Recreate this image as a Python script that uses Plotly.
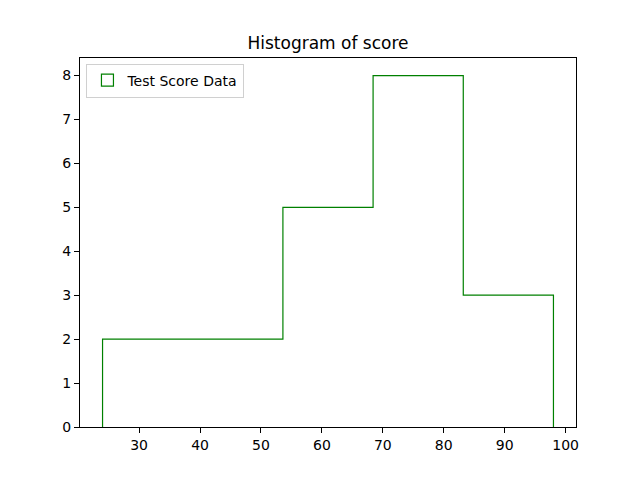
import plotly.graph_objects as go

bin_edges = [24.0, 38.8, 53.6, 68.4, 83.2, 98.0]
counts = [2, 2, 5, 8, 3]
series_name = "Test Score Data"
title_text = "Histogram of score"
x_ticks = [30, 40, 50, 60, 70, 80, 90, 100]
y_ticks = [0, 1, 2, 3, 4, 5, 6, 7, 8]

xs = [bin_edges[0]] + bin_edges
ys = [0] + counts + [0]

span = bin_edges[-1] - bin_edges[0]
x_range = [bin_edges[0] - 0.05 * span, bin_edges[-1] + 0.05 * span]
y_range = [0, max(counts) * 1.05]

fig = go.Figure()
fig.add_trace(go.Scatter(
    x=xs, y=ys, mode="lines", line_shape="hv",
    line=dict(color="green", width=1.2),
    name=series_name, showlegend=False,
))
# legend entry styled like a step-histogram patch
fig.add_trace(go.Bar(
    x=[None], y=[None], name=series_name, showlegend=True,
    marker=dict(color="rgba(0,0,0,0)", line=dict(color="green", width=1.2)),
))

axis_common = dict(
    showgrid=False, zeroline=False, showline=True, linecolor="black", linewidth=1,
    mirror=True, ticks="outside", ticklen=5, tickwidth=1, tickcolor="black",
    tickfont=dict(family="DejaVu Sans", size=14, color="black"),
)

fig.update_layout(
    width=640, height=480,
    paper_bgcolor="white", plot_bgcolor="white",
    margin=dict(l=72, r=72, t=50, b=61),
    title=dict(text=title_text, x=0.5, xref="paper", xanchor="center",
               y=1 - 35 / 480, yref="container", yanchor="middle",
               font=dict(family="DejaVu Sans", size=17, color="black")),
    xaxis=dict(range=x_range, tickvals=x_ticks, **axis_common),
    yaxis=dict(range=y_range, tickvals=y_ticks, **axis_common),
    legend=dict(x=0.013, y=0.985, xanchor="left", yanchor="top",
                bgcolor="white", bordercolor="#d0d0d0", borderwidth=1,
                tracegroupgap=0, itemwidth=30,
                font=dict(family="DejaVu Sans", size=14, color="black")),
    showlegend=True,
)

fig.write_html("out.html")
